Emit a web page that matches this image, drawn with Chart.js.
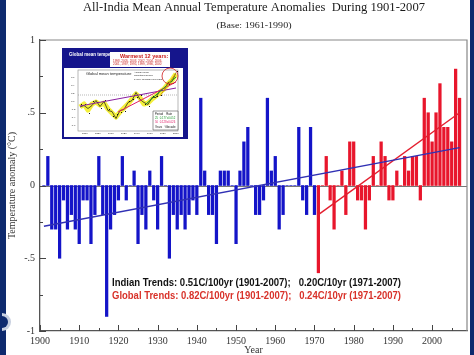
<!DOCTYPE html>
<html><head><meta charset="utf-8">
<script src="https://cdn.jsdelivr.net/npm/chart.js@4.4.1/dist/chart.umd.min.js"></script>
<style>html,body{margin:0;padding:0;background:#fff;overflow:hidden}#wrap{position:relative;width:474px;height:355px}</style>
</head><body><div id="wrap"><canvas id="c" width="474" height="355"></canvas></div>
<script>
// ---------- DATA ----------
const years = [1901,1902,1903,1904,1905,1906,1907,1908,1909,1910,
1911,1912,1913,1914,1915,1916,1917,1918,1919,1920,
1921,1922,1923,1924,1925,1926,1927,1928,1929,1930,
1931,1932,1933,1934,1935,1936,1937,1938,1939,1940,
1941,1942,1943,1944,1945,1946,1947,1948,1949,1950,
1951,1952,1953,1954,1955,1956,1957,1958,1959,1960,
1961,1962,1963,1964,1965,1966,1967,1968,1969,1970,
1971,1972,1973,1974,1975,1976,1977,1978,1979,1980,
1981,1982,1983,1984,1985,1986,1987,1988,1989,1990,
1991,1992,1993,1994,1995,1996,1997,1998,1999,2000,
2001,2002,2003,2004,2005,2006,2007];
const anomalies = [0,0.2,-0.3,-0.3,-0.5,-0.1,-0.3,-0.2,-0.3,-0.4,
-0.1,-0.1,-0.4,-0.2,0.2,-0.2,-0.9,-0.3,-0.2,-0.1,
0.2,-0.1,0,0.1,-0.4,-0.2,-0.3,0.1,-0.1,-0.3,
0.2,0,-0.5,-0.2,-0.3,-0.2,-0.3,-0.2,-0.1,-0.2,
0.6,0.1,-0.2,-0.2,-0.4,0.1,0.1,0.1,0,-0.4,
0.1,0.3,0.4,0,-0.2,-0.2,-0.1,0.6,0.1,0.2,
-0.3,-0.2,0,0,0,0.4,-0.1,-0.2,0.4,-0.2,
-0.6,0,0.2,-0.1,-0.3,0,0.1,-0.2,0.3,0.3,
-0.1,-0.1,-0.3,-0.1,0.2,0,0.3,0.2,-0.1,-0.1,
0.1,0,0.2,0.1,0.2,0.2,-0.1,0.6,0.5,0.3,
0.5,0.7,0.4,0.4,0.3,0.8,0.6];
const recentStartYear = 1971;
const longTrendYears = [1901, 2007];
const longTrendValues = [-0.28, 0.26];
const recentTrendYears = [1971, 2007];
const recentTrendValues = [-0.2, 0.5];
const yTickValues = [-1, -0.5, 0, 0.5, 1];
const yTickLabels = ['-1', '-.5', '0', '.5', '1'];
const xTickValues = [1900,1910,1920,1930,1940,1950,1960,1970,1980,1990,2000];
const titleText = 'All-India Mean Annual Temperature Anomalies  During 1901-2007';
const subtitleText = '(Base: 1961-1990)';
const indianText = 'Indian Trends: 0.51C/100yr (1901-2007);   0.20C/10yr (1971-2007)';
const globalText = 'Global Trends: 0.82C/100yr (1901-2007);   0.24C/10yr (1971-2007)';

// ---------- STYLE ----------
const BLUE = '#1414c8', RED = '#e8162c', LBLUE = '#3030b4', LRED = '#e41e2e';
const SERIF = '"Liberation Serif","Times New Roman",serif';
const SANS = '"Liberation Sans",Arial,sans-serif';

function fitText(ctx, text, x, y, width, font, color, align) {
  ctx.save();
  ctx.font = font; ctx.fillStyle = color; ctx.textBaseline = 'middle';
  const w = ctx.measureText(text).width;
  const sx = width / w;
  ctx.translate(align === 'center' ? x - width / 2 : x, y);
  ctx.scale(sx, 1);
  ctx.textAlign = 'left';
  ctx.fillText(text, 0, 0);
  ctx.restore();
}

// schematic of the embedded global-temperature picture (decoration, not data)
function drawInset(ctx) {
  ctx.save();
  ctx.fillStyle = '#15158c'; ctx.fillRect(62, 48, 126, 91);
  ctx.fillStyle = '#fff'; ctx.fillRect(64, 68, 119, 69);
  ctx.fillRect(110, 52, 60, 15);
  ctx.textBaseline = 'middle';
  ctx.font = 'bold 4.5px ' + SANS; ctx.fillStyle = '#fff';
  ctx.fillText('Global mean temperature', 69, 55);
  ctx.fillStyle = '#c81818'; ctx.font = 'bold 5.5px ' + SANS;
  ctx.fillText('Warmest 12 years:', 120, 56);
  ctx.font = '3px ' + SANS;
  ctx.fillText('1998, 2005, 2003, 2002, 2004, 2006,', 113, 61);
  ctx.fillText('2001, 1997, 1995, 1999, 1990, 2000', 113, 64.5);
  // inner frame
  ctx.strokeStyle = '#888'; ctx.lineWidth = 0.6;
  ctx.strokeRect(78, 70, 100, 61);
  ctx.setLineDash([1, 1]); ctx.beginPath(); ctx.moveTo(78, 95); ctx.lineTo(178, 95); ctx.stroke(); ctx.setLineDash([]);
  ctx.fillStyle = '#222'; ctx.font = '4px ' + SANS;
  ctx.fillText('Global mean temperature', 86, 74);
  ctx.font = '2.5px ' + SANS;
  ['0.6','0.4','0.2','0.0','-0.2','-0.4','-0.6'].forEach((t, i) => ctx.fillText(t, 71, 77 + i * 8));
  ['1860','1880','1900','1920','1940','1960','1980','2000'].forEach((t, i) => ctx.fillText(t, 82 + i * 13, 133));
  // yellow smoothing band & black series
  const pts = [[80,107],[84,104],[88,110],[92,104],[96,102],[100,105],[104,103],[108,109],[112,113],[116,117],[120,112],[124,108],[128,104],[132,99],[136,94],[140,98],[144,104],[148,103],[152,99],[156,96],[160,92],[164,89],[168,84],[172,80],[176,74]];
  ctx.strokeStyle = '#f4f03c'; ctx.lineWidth = 5; ctx.lineJoin = 'round';
  ctx.beginPath(); pts.forEach((p, i) => i ? ctx.lineTo(p[0], p[1]) : ctx.moveTo(p[0], p[1])); ctx.stroke();
  ctx.strokeStyle = '#111'; ctx.lineWidth = 0.7;
  ctx.beginPath(); pts.forEach((p, i) => i ? ctx.lineTo(p[0], p[1] + ((i % 2) ? 1.5 : -1.5)) : ctx.moveTo(p[0], p[1])); ctx.stroke();
  ctx.fillStyle = '#111';
  pts.forEach((p, i) => { ctx.fillRect(p[0] + 1, p[1] + ((i % 3) - 1) * 3, 1, 1); });
  // trend lines
  ctx.lineWidth = 1;
  ctx.strokeStyle = '#8a1fa0'; ctx.beginPath(); ctx.moveTo(80, 106); ctx.lineTo(176, 88); ctx.stroke();
  ctx.strokeStyle = '#e0206a'; ctx.beginPath(); ctx.moveTo(118, 112); ctx.lineTo(176, 82); ctx.stroke();
  ctx.strokeStyle = '#1a9a2a'; ctx.beginPath(); ctx.moveTo(146, 104); ctx.lineTo(176, 77); ctx.stroke();
  ctx.strokeStyle = '#d4a000'; ctx.beginPath(); ctx.moveTo(160, 96); ctx.lineTo(176, 73); ctx.stroke();
  // legend
  ctx.fillStyle = '#222'; ctx.font = '2.5px ' + SANS;
  ['Annual mean','Smoothed series','5-95% decadal error bars'].forEach((t, i) => ctx.fillText(t, 134, 66 + i * 3.5 + 6));
  // red circle
  ctx.strokeStyle = '#d02020'; ctx.lineWidth = 0.8;
  ctx.beginPath(); ctx.arc(170, 76, 8, 0, Math.PI * 2); ctx.stroke();
  // table box
  ctx.fillStyle = '#fff'; ctx.fillRect(153, 111, 25, 19);
  ctx.strokeStyle = '#333'; ctx.lineWidth = 0.5; ctx.strokeRect(153, 111, 25, 19);
  ctx.font = '2.8px ' + SANS; ctx.fillStyle = '#111';
  ctx.fillText('Period    Rate', 155, 114);
  ctx.fillStyle = '#1a9a2a'; ctx.fillText('25  0.177±0.052', 155, 118.5);
  ctx.fillStyle = '#e0206a'; ctx.fillText('50  0.128±0.026', 155, 122);
  ctx.fillStyle = '#111'; ctx.fillText('Years   °/decade', 155, 127);
  ctx.restore();
}

const decor = {
  id: 'decor',
  beforeDraw(chart) {
    const ctx = chart.ctx;
    ctx.save();
    ctx.fillStyle = '#fff'; ctx.fillRect(0, 0, 474, 355);
    ctx.fillStyle = '#0e2a6e'; ctx.fillRect(0, 0, 6, 355);
    ctx.fillRect(470, 0, 4, 355);
    ctx.fillStyle = '#c8d0e0';
    ctx.beginPath(); ctx.arc(2, 322, 9, -Math.PI / 2, Math.PI / 2); ctx.fill();
    ctx.fillStyle = '#0e2a6e';
    ctx.beginPath(); ctx.arc(2, 322, 6, -Math.PI / 2, Math.PI / 2); ctx.fill();
    ctx.restore();
  },
  beforeDatasetsDraw(chart) {
    const {ctx, chartArea: a, scales: {y}} = chart;
    ctx.save();
    ctx.strokeStyle = '#777'; ctx.lineWidth = 1;
    const y0 = Math.round(y.getPixelForValue(0)) + 0.5;
    ctx.beginPath(); ctx.moveTo(a.left, y0); ctx.lineTo(a.right, y0); ctx.stroke();
    ctx.restore();
  },
  afterDraw(chart) {
    const {ctx, chartArea: a, scales: {x, y}} = chart;
    ctx.save();
    ctx.strokeStyle = '#888'; ctx.lineWidth = 1.2;
    ctx.beginPath(); ctx.moveTo(a.left, a.top); ctx.lineTo(a.right, a.top); ctx.lineTo(a.right, a.bottom); ctx.stroke();
    ctx.strokeStyle = '#444'; ctx.lineWidth = 1;
    for (let v = 1900; v <= 2005; v += 5) {
      const px = Math.round(x.getPixelForValue(v)) + 0.5;
      const len = v % 10 === 0 ? 6 : 3;
      ctx.beginPath(); ctx.moveTo(px, a.bottom); ctx.lineTo(px, a.bottom - len); ctx.stroke();
    }
    for (let v = -1; v <= 1.001; v += 0.25) {
      const py = Math.round(y.getPixelForValue(v)) + 0.5;
      const len = Math.abs(v * 2 - Math.round(v * 2)) < 0.01 ? 6 : 3;
      ctx.beginPath(); ctx.moveTo(a.left, py); ctx.lineTo(a.left + len, py); ctx.stroke();
    }
    ctx.restore();
    drawInset(ctx);
    fitText(ctx, titleText, 254, 8, 342, '13px ' + SERIF, '#1a1a1a', 'center');
    fitText(ctx, subtitleText, 254, 26, 75, '9px ' + SERIF, '#222', 'center');
    fitText(ctx, indianText, 112, 283, 289, 'bold 11px ' + SANS, '#111', 'left');
    fitText(ctx, globalText, 112, 296, 289, 'bold 11px ' + SANS, '#d8322a', 'left');
  }
};

const ctx = document.getElementById('c').getContext('2d');
new Chart(ctx, {
  type: 'bar',
  data: {
    datasets: [
      { type: 'line', data: longTrendYears.map((yr, i) => ({x: yr, y: longTrendValues[i]})),
        borderColor: LBLUE, borderWidth: 1.4, pointRadius: 0, order: 0 },
      { type: 'line', data: recentTrendYears.map((yr, i) => ({x: yr, y: recentTrendValues[i]})),
        borderColor: LRED, borderWidth: 1.4, pointRadius: 0, order: 0 },
      { type: 'bar', data: years.map((yr, i) => ({x: yr, y: anomalies[i]})),
        backgroundColor: years.map(yr => yr >= recentStartYear ? RED : BLUE),
        barThickness: 2.6, grouped: false, order: 1 }
    ]
  },
  options: {
    responsive: false, animation: false, devicePixelRatio: 1,
    layout: {padding: {top: 40, right: 7, left: 0, bottom: 0}},
    plugins: {legend: {display: false}, tooltip: {enabled: false}, title: {display: false}},
    scales: {
      x: {
        type: 'linear', min: 1900, max: 2008.9, offset: false,
        afterFit: s => { s.height = 24; },
        afterBuildTicks: s => { s.ticks = xTickValues.map(v => ({value: v})); },
        grid: {display: false, drawTicks: false, offset: false},
        border: {display: true, color: '#555', width: 1.3},
        ticks: {font: {family: SERIF, size: 10}, color: '#333', padding: 4, maxRotation: 0, autoSkip: false,
                callback: v => String(v)},
        title: {display: true, text: 'Year', font: {family: SERIF, size: 10}, color: '#333', padding: {top: 0, bottom: -1}}
      },
      y: {
        min: -1, max: 1,
        afterFit: s => { s.width = 40; },
        afterBuildTicks: s => { s.ticks = yTickValues.map(v => ({value: v})); },
        grid: {display: false, drawTicks: false},
        border: {display: true, color: '#555', width: 1.3},
        ticks: {font: {family: SERIF, size: 10}, color: '#333', padding: 5,
                callback: v => yTickLabels[yTickValues.indexOf(v)]},
        title: {display: true, text: 'Temperature anomaly (°C)', font: {family: SERIF, size: 10}, color: '#333',
                padding: {top: 6, bottom: 0}}
      }
    }
  },
  plugins: [decor]
});
</script></body></html>
